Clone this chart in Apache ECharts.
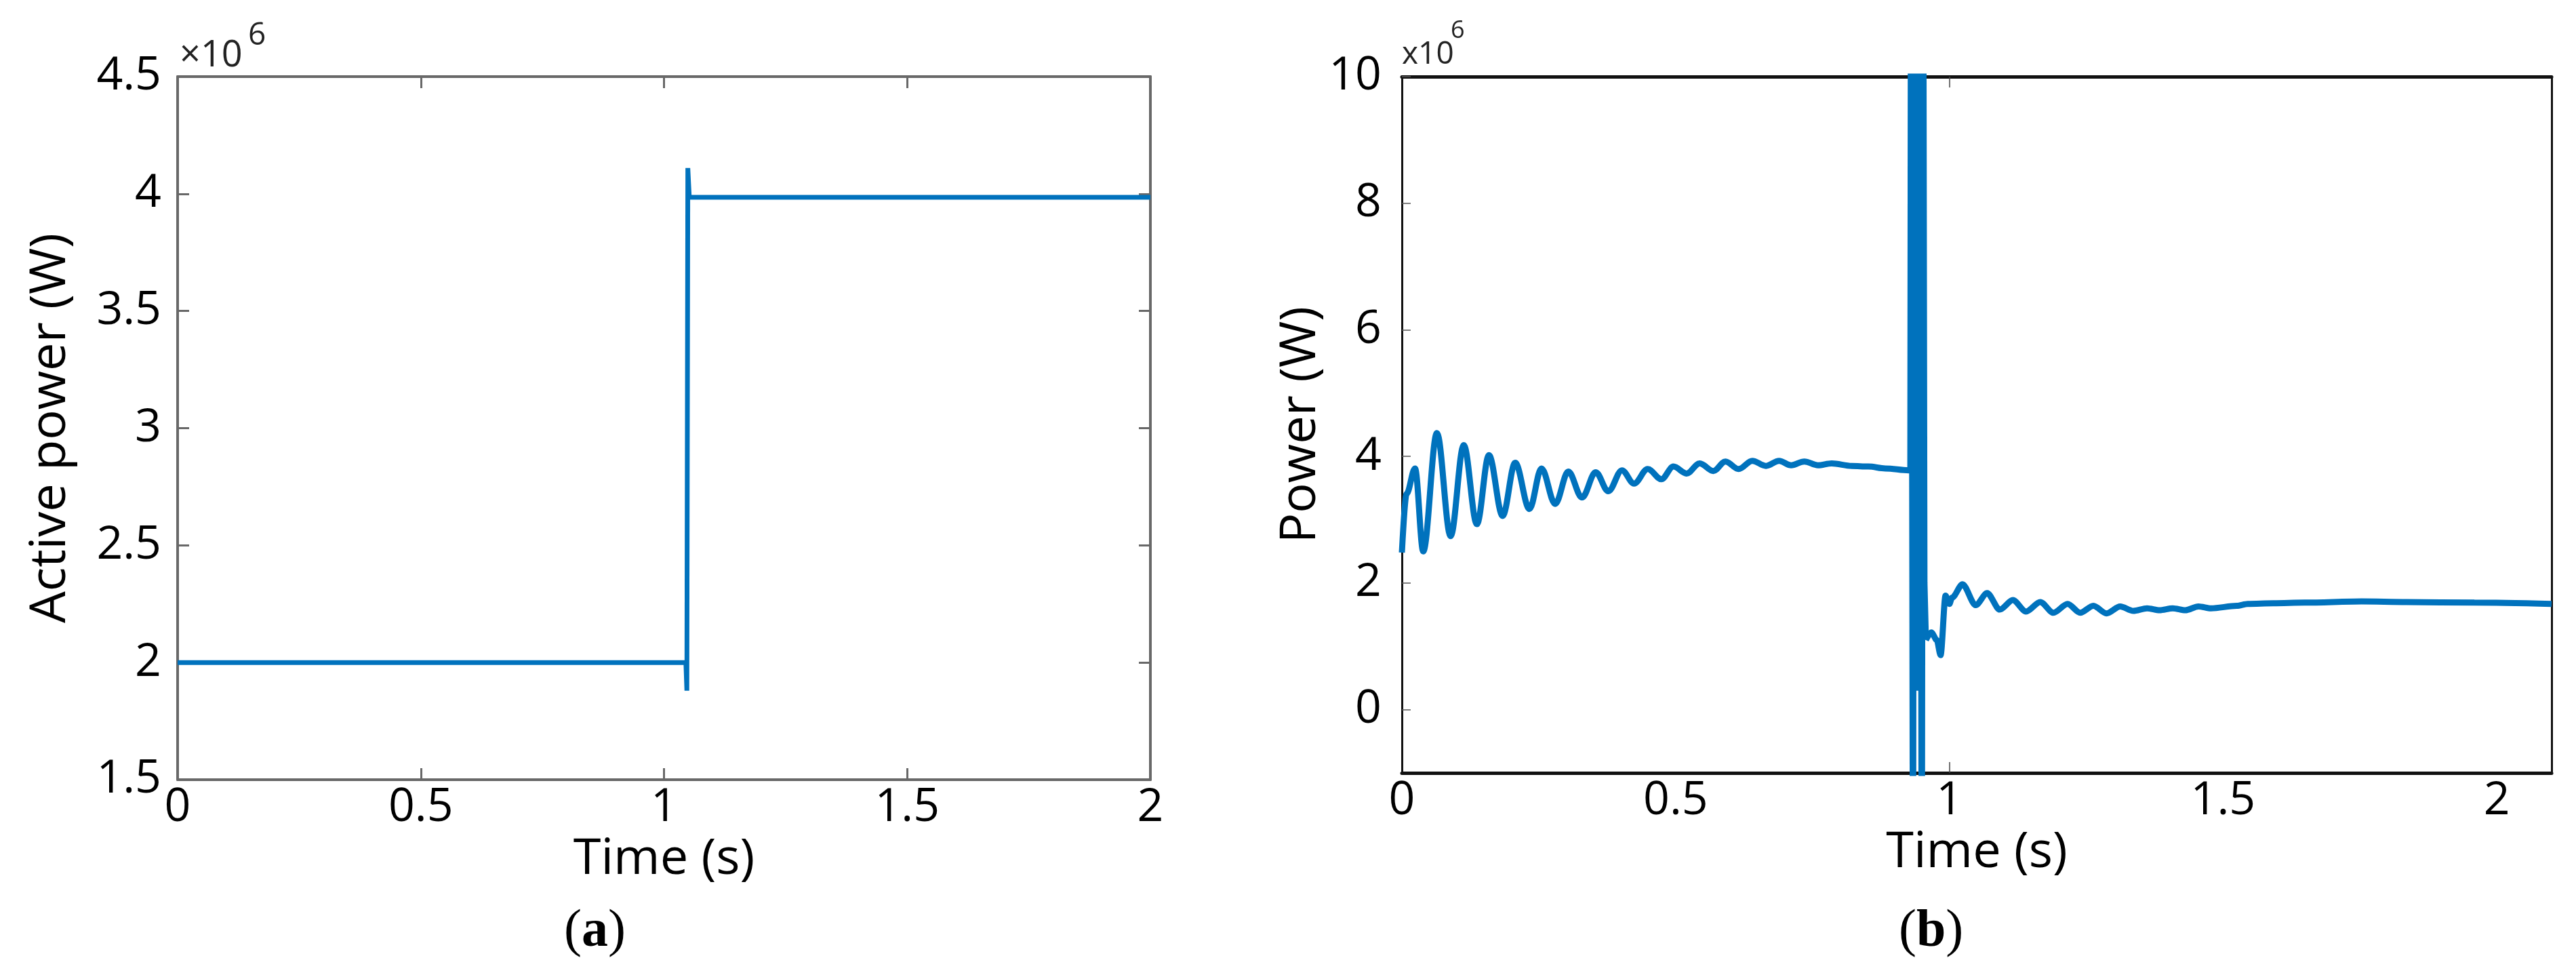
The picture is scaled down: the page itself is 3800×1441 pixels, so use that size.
<!DOCTYPE html>
<html>
<head>
<meta charset="utf-8">
<title>Active power / Power</title>
<script src="https://cdn.jsdelivr.net/npm/echarts@6/dist/echarts.min.js"></script>
<style>
html,body{margin:0;padding:0;background:#fff;}
#chart{width:3800px;height:1441px;}
</style>
</head>
<body>
<div id="chart"></div>
<script>
// (a) active power, values in 10^6 W
var activeTime  = [0, 1.045, 1.047, 1.049, 1.052, 2];
var activePower = [2.0, 2.0, 1.88, 4.11, 3.985, 3.985];

// (b) power, values in 10^6 W -- before the fault
var preTime  = [0, 0.0085, 0.024, 0.039, 0.064, 0.089, 0.113, 0.137, 0.159, 0.184, 0.207, 0.233, 0.255, 0.280,
                0.304, 0.329, 0.354, 0.377, 0.402, 0.424, 0.449, 0.474, 0.496, 0.520, 0.544, 0.569, 0.591, 0.615,
                0.640, 0.665, 0.689, 0.711, 0.735, 0.760, 0.785, 0.822, 0.852, 0.883, 0.926, 0.9287];
var prePower = [2.48, 3.41, 3.81, 2.50, 4.37, 2.74, 4.18, 2.93, 4.02, 3.06, 3.90, 3.17, 3.81, 3.25,
                3.76, 3.35, 3.75, 3.45, 3.78, 3.57, 3.80, 3.64, 3.84, 3.73, 3.89, 3.77, 3.92, 3.80,
                3.93, 3.85, 3.93, 3.86, 3.92, 3.86, 3.89, 3.85, 3.84, 3.81, 3.78, 3.78];
// fault transient (goes off scale both ways)
var faultTime  = [0.9287, 0.9300, 0.9336, 0.9360, 0.9385, 0.9410, 0.9435, 0.9460, 0.9497, 0.9520, 0.9545, 0.9571];
var faultPower = [3.78, 14, -4, 14, 0.3, 14, 0.3, 14, -4, 14, 2, 1.10];
// after the fault
var postTime  = [0.9571, 0.967, 0.977, 0.984, 0.993, 1.000, 1.005, 1.024, 1.048, 1.069, 1.092, 1.116, 1.140, 1.166,
                 1.190, 1.216, 1.239, 1.263, 1.287, 1.312, 1.336, 1.361, 1.384, 1.408, 1.431, 1.455, 1.478, 1.525,
                 1.545, 1.592, 1.649, 1.753, 1.835, 1.959, 2.1];
var postPower = [1.10, 1.22, 1.10, 0.86, 1.80, 1.67, 1.77, 1.98, 1.65, 1.84, 1.58, 1.73, 1.55, 1.70,
                 1.53, 1.67, 1.53, 1.64, 1.52, 1.63, 1.56, 1.60, 1.57, 1.60, 1.57, 1.63, 1.60, 1.64,
                 1.67, 1.68, 1.69, 1.71, 1.70, 1.69, 1.67];

// tick labels
var xTicksB = [0, 0.5, 1, 1.5, 2];
var yTicksB = [0, 2, 4, 6, 8, 10];

function zip(xs, ys){
	var out = [];
	for(var i = 0; i < xs.length; i++){ out.push([xs[i], ys[i]]); }
	return out;
}

var FONT = "'Open Sans', 'Noto Sans', sans-serif";
var SERIF = "'Liberation Serif', 'DejaVu Serif', serif";
var BLUE = '#0072BD';
var GRAY = '#686868';

var nameStyle = {fontSize: 74, color: '#000', fontFamily: FONT};

var chart = echarts.init(document.getElementById('chart'), null, {renderer: 'canvas'});

var option = {
	animation: false,
	backgroundColor: '#fff',
	grid: [
		{left: 262, top: 113, width: 1435, height: 1037, containLabel: false},
		{left: 2068, top: 113, width: 1696, height: 1027, containLabel: false}
	],
	xAxis: [
		// (a) bottom
		{gridIndex: 0, type: 'value', min: 0, max: 2, interval: 0.5, position: 'bottom',
		 axisLine: {show: true, onZero: false, lineStyle: {color: GRAY, width: 4}},
		 axisTick: {show: true, inside: true, length: 17, lineStyle: {color: GRAY, width: 3}},
		 axisLabel: {show: true, margin: 8, fontSize: 68, color: '#000', fontFamily: FONT},
		 splitLine: {show: false},
		 name: 'Time (s)', nameLocation: 'middle', nameGap: 64, nameTextStyle: nameStyle},
		// (a) top
		{gridIndex: 0, type: 'value', min: 0, max: 2, interval: 0.5, position: 'top',
		 axisLine: {show: true, onZero: false, lineStyle: {color: GRAY, width: 4}},
		 axisTick: {show: true, inside: true, length: 17, lineStyle: {color: GRAY, width: 3}},
		 axisLabel: {show: false}, splitLine: {show: false}},
		// (b) bottom
		{gridIndex: 1, type: 'value', min: 0, max: 2.1, position: 'bottom',
		 axisLine: {show: true, onZero: false, lineStyle: {color: '#111', width: 5}},
		 axisTick: {show: true, inside: true, length: 16, customValues: [1], lineStyle: {color: '#444', width: 1.5}},
		 axisLabel: {show: true, margin: 8, customValues: xTicksB, fontSize: 68, color: '#000', fontFamily: FONT},
		 splitLine: {show: false},
		 name: 'Time (s)', nameLocation: 'middle', nameGap: 74, nameTextStyle: nameStyle},
		// (b) top
		{gridIndex: 1, type: 'value', min: 0, max: 2.1, position: 'top',
		 axisLine: {show: true, onZero: false, lineStyle: {color: '#111', width: 5}},
		 axisTick: {show: true, inside: true, length: 16, customValues: [1], lineStyle: {color: '#444', width: 1.5}},
		 axisLabel: {show: false}, splitLine: {show: false}}
	],
	yAxis: [
		// (a) left
		{gridIndex: 0, type: 'value', min: 1.5, max: 4.5, interval: 0.5, position: 'left',
		 axisLine: {show: true, onZero: false, lineStyle: {color: GRAY, width: 4}},
		 axisTick: {show: true, inside: true, length: 17, lineStyle: {color: GRAY, width: 3}},
		 axisLabel: {show: true, margin: 24, fontSize: 68, color: '#000', fontFamily: FONT},
		 splitLine: {show: false},
		 name: 'Active power (W)', nameLocation: 'middle', nameRotate: 90, nameGap: 150, nameTextStyle: nameStyle},
		// (a) right
		{gridIndex: 0, type: 'value', min: 1.5, max: 4.5, interval: 0.5, position: 'right',
		 axisLine: {show: true, onZero: false, lineStyle: {color: GRAY, width: 4}},
		 axisTick: {show: true, inside: true, length: 17, lineStyle: {color: GRAY, width: 3}},
		 axisLabel: {show: false}, splitLine: {show: false}},
		// (b) left
		{gridIndex: 1, type: 'value', min: -1, max: 10, position: 'left',
		 axisLine: {show: true, onZero: false, lineStyle: {color: '#111', width: 3}},
		 axisTick: {show: true, inside: true, length: 13, customValues: yTicksB, lineStyle: {color: '#555', width: 1.5}},
		 axisLabel: {show: true, margin: 30, customValues: yTicksB, fontSize: 68, color: '#000', fontFamily: FONT},
		 splitLine: {show: false},
		 name: 'Power (W)', nameLocation: 'middle', nameRotate: 90, nameGap: 92, nameTextStyle: nameStyle},
		// (b) right
		{gridIndex: 1, type: 'value', min: -1, max: 10, position: 'right',
		 axisLine: {show: true, onZero: false, lineStyle: {color: '#111', width: 3}},
		 axisTick: {show: false}, axisLabel: {show: false}, splitLine: {show: false}}
	],
	series: [
		{name: 'Active power', type: 'line', xAxisIndex: 0, yAxisIndex: 0, data: zip(activeTime, activePower),
		 symbol: 'none', lineStyle: {color: BLUE, width: 7}, clip: true},
		{name: 'Power pre', type: 'line', xAxisIndex: 2, yAxisIndex: 2, data: zip(preTime, prePower),
		 symbol: 'none', smooth: 0.35, smoothMonotone: 'x', lineStyle: {color: BLUE, width: 9}, clip: true},
		{name: 'Power fault', type: 'line', xAxisIndex: 2, yAxisIndex: 2, data: zip(faultTime, faultPower),
		 symbol: 'none', lineStyle: {color: BLUE, width: 9}, clip: true},
		{name: 'Power post', type: 'line', xAxisIndex: 2, yAxisIndex: 2, data: zip(postTime, postPower),
		 symbol: 'none', smooth: 0.3, smoothMonotone: 'x', lineStyle: {color: BLUE, width: 9}, clip: true}
	],
	graphic: [
		// x10^6 exponent of (a)
		{type: 'text', left: 265, top: 56, style: {text: '\u00d710', fontSize: 54, fontFamily: FONT, fill: '#222'}},
		{type: 'text', left: 366, top: 30, style: {text: '6', fontSize: 46, fontFamily: FONT, fill: '#222'}},
		// x10^6 exponent of (b)
		{type: 'text', left: 2068, top: 58, style: {text: 'x10', fontSize: 46, fontFamily: FONT, fill: '#222'}},
		{type: 'text', left: 2140, top: 28, style: {text: '6', fontSize: 36, fontFamily: FONT, fill: '#222'}},
		// panel captions
		{type: 'text', left: 832, top: 1336, style: {text: '{p|(}{b|a}{p|)}',
		 rich: {p: {fontSize: 78, fontFamily: SERIF, fill: '#000'},
		        b: {fontSize: 78, fontWeight: 'bold', fontFamily: SERIF, fill: '#000'}}}},
		{type: 'text', left: 2801, top: 1336, style: {text: '{p|(}{b|b}{p|)}',
		 rich: {p: {fontSize: 78, fontFamily: SERIF, fill: '#000'},
		        b: {fontSize: 78, fontWeight: 'bold', fontFamily: SERIF, fill: '#000'}}}}
	]
};
chart.setOption(option);
</script>
</body>
</html>
